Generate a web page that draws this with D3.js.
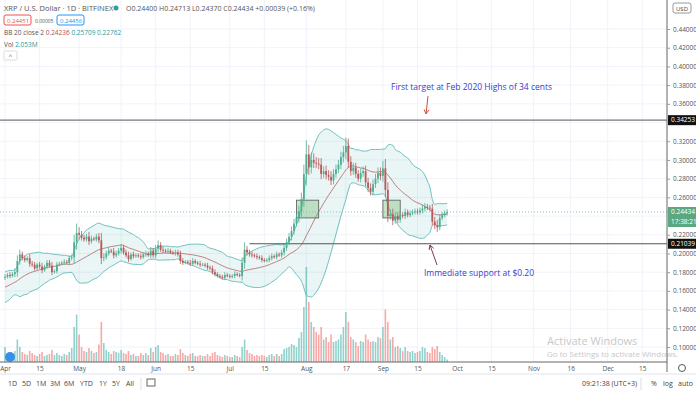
<!DOCTYPE html>
<html><head><meta charset="utf-8">
<script src="https://cdn.jsdelivr.net/npm/d3@7"></script>
<style>body{margin:0;background:#fff;font-family:"Open Sans",sans-serif}</style>
</head><body><svg id="c" width="696" height="415"></svg>
<script>
const startDate = "2020-04-01";
const primeCloses = [0.150,0.152,0.148,0.155,0.158,0.160,0.156,0.162,0.165,0.163,0.168,0.170,0.172,0.169,0.166,0.170,0.173,0.172,0.174];
const closes = [
0.175,0.177,0.176,0.178,0.180,0.192,0.199,0.195,0.193,0.195,0.189,0.188,0.184,0.188,0.186,0.182,0.186,0.190,0.187,0.180,0.181,0.188,0.189,0.190,0.191,0.190,0.195,0.196,0.212,0.222,
0.220,0.217,0.215,0.218,0.213,0.216,0.215,0.218,0.214,0.195,0.196,0.200,0.203,0.202,0.198,0.200,0.203,0.206,0.201,0.198,0.194,0.199,0.197,0.198,0.197,0.196,0.199,0.200,0.198,0.203,0.198,
0.205,0.209,0.204,0.203,0.202,0.203,0.201,0.200,0.201,0.199,0.192,0.190,0.191,0.190,0.189,0.192,0.190,0.189,0.188,0.188,0.187,0.185,0.184,0.180,0.178,0.176,0.175,0.174,0.177,0.176,
0.175,0.176,0.178,0.177,0.176,0.190,0.204,0.201,0.199,0.198,0.197,0.196,0.195,0.193,0.192,0.193,0.195,0.197,0.196,0.199,0.198,0.201,0.206,0.212,0.218,0.224,0.232,0.238,0.245,0.258,0.285,
0.306,0.292,0.300,0.297,0.296,0.295,0.285,0.288,0.284,0.282,0.278,0.285,0.290,0.295,0.303,0.308,0.315,0.298,0.288,0.292,0.285,0.280,0.286,0.288,0.276,0.270,0.266,0.274,0.280,0.286,0.283,
0.291,0.268,0.240,0.242,0.235,0.240,0.236,0.241,0.240,0.244,0.241,0.243,0.244,0.245,0.244,0.246,0.248,0.250,0.249,0.248,0.234,0.230,0.228,0.238,0.241,0.243,0.2443];
const wicks = [
3,2,3,2,4,6,5,3,3,2,4,3,3,2,3,4,2,3,3,4,2,3,2,2,3,2,3,3,8,10,
6,4,3,3,5,3,2,3,4,8,4,3,3,2,4,3,3,4,3,3,4,2,3,2,2,3,2,3,2,4,3,
4,5,3,3,2,3,2,2,3,3,4,3,2,2,3,3,2,2,3,2,2,3,2,3,3,2,2,2,3,2,
2,2,3,2,2,6,8,4,3,3,2,3,2,3,2,2,3,3,2,3,2,3,4,4,4,5,5,4,6,7,10,
15,10,8,7,6,6,7,5,6,5,6,5,5,5,6,7,9,8,6,5,5,4,5,5,6,5,5,5,5,6,6,
8,10,8,5,6,4,4,4,3,4,3,3,3,3,3,3,4,4,3,3,5,5,6,4,3,3,3];
const volumes = [
30,18,14,16,22,45,30,20,16,14,22,18,14,12,16,20,12,14,16,24,14,18,14,12,16,14,20,28,70,95,
55,30,22,20,28,22,18,20,35,80,38,24,20,16,22,20,18,24,18,16,22,14,16,12,12,18,14,18,14,28,20,
30,34,20,18,14,16,12,12,16,14,26,18,14,12,16,18,12,12,14,12,12,16,12,18,20,14,12,10,14,12,
10,10,14,12,10,30,45,24,18,16,12,14,12,14,12,10,14,16,12,16,12,16,26,28,30,36,34,30,48,60,110,
190,120,80,70,60,55,70,45,50,40,55,40,42,45,55,70,100,80,50,45,40,32,42,40,55,45,40,42,40,50,48,
70,105,80,45,50,30,32,28,22,30,22,20,22,18,20,22,30,28,20,18,30,26,32,20,14,10,5];
const priceTicks = [0.10,0.12,0.14,0.16,0.18,0.20,0.22,0.24,0.26,0.28,0.30,0.32,0.34,0.36,0.38,0.40,0.42,0.44];
const dateTicks = [["2020-04-01","Apr"],["2020-04-15","15"],["2020-05-01","May"],["2020-05-18","18"],["2020-06-01","Jun"],["2020-06-15","15"],["2020-07-01","Jul"],["2020-07-15","15"],["2020-08-01","Aug"],["2020-08-17","17"],["2020-09-01","Sep"],["2020-09-15","15"],["2020-10-01","Oct"],["2020-10-15","15"],["2020-11-01","Nov"],["2020-11-16","16"],["2020-12-01","Dec"],["2020-12-15","15"]];
const levels = [0.34253, 0.21039];
const lastPrice = 0.24434;

const svg = d3.select("#c");
const W = 696, AX = 667, PB = 362;
const parse = d3.utcParse("%Y-%m-%d");
const t0 = parse(startDate);
const day = 864e5;
const x = d3.scaleUtc().domain([t0, new Date(+t0 + 258*day)]).range([5, 5+258*2.47]);
const y = d3.scaleLinear().domain([0.10, 0.44]).range([347, 29]);
const yv = d3.scaleLinear().domain([0, 200]).range([PB, 262]);

const all = primeCloses.concat(closes);
const data = closes.map((c,i)=>{
  const o = i===0 ? primeCloses[primeCloses.length-1] : closes[i-1];
  const w = wicks[i]*0.001;
  return {d:new Date(+t0+i*day), o, c, h:Math.max(o,c)+w, l:Math.min(o,c)-w*0.8, v:volumes[i]};
});
const bb = closes.map((c,i)=>{
  const k = i + primeCloses.length;
  const win = all.slice(k-19, k+1);
  const m = d3.mean(win), s = Math.sqrt(d3.mean(win, v=>(v-m)**2));
  return {d:data[i].d, m, u:m+2*s, lo:m-2*s};
});

svg.append("defs").append("clipPath").attr("id","pc").append("rect").attr("x",0).attr("y",0).attr("width",AX).attr("height",PB);
const g = svg.append("g").attr("clip-path","url(#pc)");

priceTicks.forEach(p=>g.append("line").attr("x1",0).attr("x2",AX).attr("y1",y(p)).attr("y2",y(p)).attr("stroke","#f0f3fa"));
dateTicks.forEach(t=>g.append("line").attr("x1",x(parse(t[0]))).attr("x2",x(parse(t[0]))).attr("y1",0).attr("y2",PB).attr("stroke","#f0f3fa"));

const bw = 1.6;
g.selectAll(".v").data(data).join("rect").attr("x",d=>x(d.d)-bw/2).attr("width",bw)
 .attr("y",d=>yv(d.v)).attr("height",d=>PB-yv(d.v))
 .attr("fill",d=>d.c>=d.o?"rgba(38,166,154,0.5)":"rgba(239,83,80,0.5)");

g.append("path").datum(bb).attr("fill","rgba(38,166,154,0.10)")
 .attr("d",d3.area().x(d=>x(d.d)).y0(d=>y(d.lo)).y1(d=>y(d.u)).curve(d3.curveMonotoneX));
["u","lo"].forEach(k=>g.append("path").datum(bb).attr("fill","none").attr("stroke","#6fc0c0").attr("stroke-width",1)
 .attr("d",d3.line().x(d=>x(d.d)).y(d=>y(d[k])).curve(d3.curveMonotoneX)));
g.append("path").datum(bb).attr("fill","none").attr("stroke","#c08080").attr("stroke-width",1)
 .attr("d",d3.line().x(d=>x(d.d)).y(d=>y(d.m)).curve(d3.curveMonotoneX));

g.append("line").attr("x1",0).attr("x2",AX).attr("y1",y(levels[0])).attr("y2",y(levels[0])).attr("stroke","#777").attr("stroke-width",1.2);
g.append("line").attr("x1",x(parse("2020-07-09"))).attr("x2",AX).attr("y1",y(levels[1])).attr("y2",y(levels[1])).attr("stroke","#555").attr("stroke-width",1.2);
g.append("line").attr("x1",0).attr("x2",AX).attr("y1",y(lastPrice)).attr("y2",y(lastPrice)).attr("stroke","#8cc8b8").attr("stroke-dasharray","1,2");

[["2020-07-28","2020-08-06"],["2020-09-01","2020-09-08"]].forEach(b=>{
  g.append("rect").attr("x",x(parse(b[0]))).attr("width",x(parse(b[1]))-x(parse(b[0])))
   .attr("y",y(0.257)).attr("height",y(0.238)-y(0.257)).attr("fill","rgba(120,190,120,0.4)").attr("stroke","#555").attr("stroke-width",0.8);
});

const cg = g.selectAll(".k").data(data).join("g");
cg.append("line").attr("x1",d=>x(d.d)).attr("x2",d=>x(d.d)).attr("y1",d=>y(d.h)).attr("y2",d=>y(d.l))
 .attr("stroke",d=>d.c>=d.o?"#4fae90":"#b85a5a").attr("stroke-width",0.8);
cg.append("rect").attr("x",d=>x(d.d)-0.9).attr("width",1.8)
 .attr("y",d=>y(Math.max(d.o,d.c))).attr("height",d=>Math.max(0.8,Math.abs(y(d.o)-y(d.c))))
 .attr("fill",d=>d.c>=d.o?"#4fae90":"#b85a5a");

svg.append("text").attr("x",391).attr("y",90).attr("font-size",8.5).attr("fill","#3a3ad0").text("First target at Feb 2020 Highs of 34 cents");
svg.append("text").attr("x",424).attr("y",276).attr("font-size",8.5).attr("fill","#3a3ad0").text("Immediate support at $0.20");
function arrow(x1,y1,x2,y2,col){
  svg.append("line").attr("x1",x1).attr("y1",y1).attr("x2",x2).attr("y2",y2).attr("stroke",col).attr("stroke-width",1);
  const a = Math.atan2(y2-y1,x2-x1), L=5;
  [0.5,-0.5].forEach(s=>svg.append("line").attr("x1",x2).attr("y1",y2).attr("x2",x2-L*Math.cos(a+s)).attr("y2",y2-L*Math.sin(a+s)).attr("stroke",col).attr("stroke-width",1));
}
arrow(428,96,426,114,"#d05040");
arrow(437,265,430,245,"#804040");

svg.append("text").attr("x",547).attr("y",345).attr("font-size",11).attr("fill","#c8c8c8").text("Activate Windows");
svg.append("text").attr("x",547).attr("y",357).attr("font-size",8).attr("fill","#c8c8c8").text("Go to Settings to activate Windows.");
svg.append("circle").attr("cx",10).attr("cy",357).attr("r",5).attr("fill","#3a8ee6");

// right axis (labels hidden where a price tag sits)
const tagPrices = levels.concat([lastPrice]);
const shownTicks = priceTicks.filter(p=>tagPrices.every(q=>Math.abs(y(p)-y(q))>(q===lastPrice?14:7)));
svg.append("line").attr("x1",AX).attr("x2",AX).attr("y1",0).attr("y2",372).attr("stroke","#666");
const ra = svg.append("g").attr("transform",`translate(${AX},0)`).call(d3.axisRight(y).tickValues(shownTicks).tickSize(3).tickFormat(d3.format(".5f")));
ra.select(".domain").remove();
ra.selectAll("text").attr("font-size",6.5).attr("fill","#555").attr("font-family","Open Sans");
ra.selectAll("line").attr("stroke","#999");
svg.append("rect").attr("x",AX+6).attr("y",3).attr("width",18).attr("height",10).attr("rx",2).attr("fill","#fff").attr("stroke","#999");
svg.append("text").attr("x",AX+15).attr("y",10.5).attr("font-size",6).attr("text-anchor","middle").attr("fill","#444").text("USD");
function tag(p,txt,fill,h){
  svg.append("rect").attr("x",AX+1).attr("y",y(p)-5).attr("width",28).attr("height",h).attr("fill",fill);
  svg.append("text").attr("x",AX+4).attr("y",y(p)+2).attr("font-size",6.5).attr("fill","#fff").text(txt);
}
tag(levels[0],"0.34253","#111",10);
tag(levels[1],"0.21039","#111",10);
tag(lastPrice,"0.24434","#5aa880",20);
svg.append("text").attr("x",AX+4).attr("y",y(lastPrice)+12).attr("font-size",6.5).attr("fill","#fff").text("17:38:21");

svg.append("line").attr("x1",0).attr("x2",AX).attr("y1",PB).attr("y2",PB).attr("stroke","#666");
const ba = svg.append("g").attr("transform",`translate(0,${PB})`).call(d3.axisBottom(x).tickValues(dateTicks.map(t=>parse(t[0]))).tickSize(0).tickFormat((d,i)=>dateTicks[i][1]));
ba.select(".domain").remove();
ba.selectAll("text").attr("font-size",6.5).attr("fill","#555").attr("dy","0.9em").attr("font-family","Open Sans");
svg.append("circle").attr("cx",682).attr("cy",368).attr("r",3.5).attr("fill","none").attr("stroke","#555");
svg.append("line").attr("x1",0).attr("x2",W).attr("y1",374).attr("y2",374).attr("stroke","#e0e3eb");

const tb = [["1D",8],["5D",22],["1M",36],["3M",50],["6M",64],["YTD",80],["1Y",99],["5Y",112],["All",126]];
tb.forEach(t=>svg.append("text").attr("x",t[1]).attr("y",386).attr("font-size",7).attr("fill","#444").text(t[0]));
svg.append("line").attr("x1",141).attr("x2",141).attr("y1",378).attr("y2",390).attr("stroke","#ddd");
svg.append("rect").attr("x",147).attr("y",379).attr("width",8).attr("height",7).attr("fill","none").attr("stroke","#666");
svg.append("text").attr("x",582).attr("y",386).attr("font-size",7).attr("fill","#444").text("09:21:38 (UTC+3)");
svg.append("line").attr("x1",641).attr("x2",641).attr("y1",378).attr("y2",390).attr("stroke","#ddd");
[["%",651],["log",663],["auto",678]].forEach(t=>svg.append("text").attr("x",t[1]).attr("y",386).attr("font-size",7).attr("fill","#444").text(t[0]));

svg.append("text").attr("x",4).attr("y",11).attr("font-size",7.5).attr("fill","#555").text("XRP / U.S. Dollar · 1D · BITFINEX");
svg.append("circle").attr("cx",116).attr("cy",8).attr("r",2.5).attr("fill","#26a69a");
svg.append("text").attr("x",126).attr("y",11).attr("font-size",7).attr("fill","#555").text("O0.24400 H0.24713 L0.24370 C0.24434 +0.00039 (+0.16%)");
svg.append("rect").attr("x",4).attr("y",15).attr("width",27).attr("height",10).attr("rx",2).attr("fill","#fff").attr("stroke","#ef5350");
svg.append("text").attr("x",7).attr("y",22.5).attr("font-size",6).attr("fill","#ef5350").text("0.24451");
svg.append("text").attr("x",35).attr("y",22.5).attr("font-size",5).attr("fill","#555").text("0.00005");
svg.append("rect").attr("x",57).attr("y",15).attr("width",27).attr("height",10).attr("rx",2).attr("fill","#fff").attr("stroke","#2196f3");
svg.append("text").attr("x",60).attr("y",22.5).attr("font-size",6).attr("fill","#2196f3").text("0.24456");
const bbT = svg.append("text").attr("x",4).attr("y",35).attr("font-size",6.5).attr("fill","#555");
bbT.append("tspan").text("BB 20 close 2 ");
bbT.append("tspan").attr("fill","#b05050").text("0.24236 ");
bbT.append("tspan").attr("fill","#2a9a9a").text("0.25709 0.22762");
const vT = svg.append("text").attr("x",4).attr("y",47).attr("font-size",6.5).attr("fill","#555");
vT.append("tspan").text("Vol ");
vT.append("tspan").attr("fill","#2a9a9a").text("2.053M");
svg.append("rect").attr("x",4).attr("y",51).attr("width",13).attr("height",9).attr("rx",1).attr("fill","#fff").attr("stroke","#ddd");
svg.append("text").attr("x",10.5).attr("y",58).attr("font-size",6).attr("text-anchor","middle").attr("fill","#555").text("^");
</script></body></html>
